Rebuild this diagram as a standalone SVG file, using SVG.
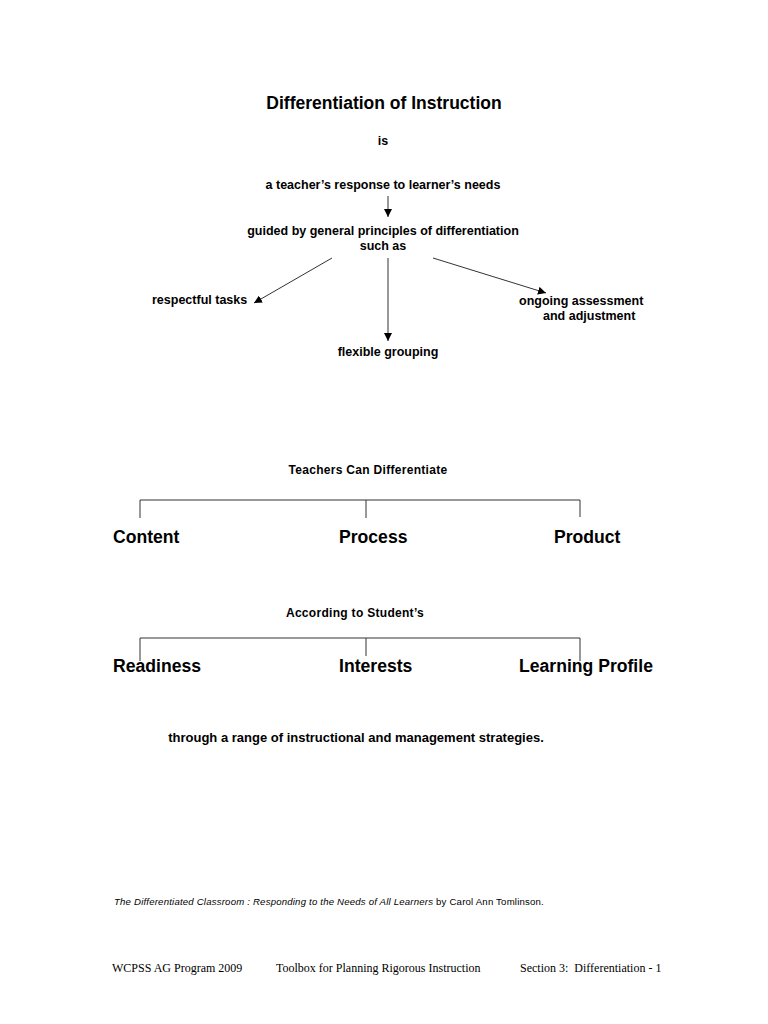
<svg xmlns="http://www.w3.org/2000/svg" width="768" height="1024" viewBox="0 0 768 1024">
<defs>
<marker id="arr" viewBox="0 0 10 10" refX="10" refY="5" markerWidth="8" markerHeight="8" markerUnits="userSpaceOnUse" orient="auto">
<path d="M0,0 L10,5 L0,10 Z" fill="#000"/>
</marker>
</defs>
<style>
text{font-family:"Liberation Sans",Arial,sans-serif;fill:#000}
.b{font-weight:bold}
.t{font-size:17.5px}
.s{font-size:12.5px}
.k{font-size:12px}
.l{font-size:17.6px}
.m{font-size:13px}
.c{font-size:9.6px;letter-spacing:0.2px}
.f{font-family:"Liberation Serif","Times New Roman",serif;font-size:12px}
.ln{stroke:#333;stroke-width:1;fill:none}
</style>
<rect width="768" height="1024" fill="#fff"/>
<g id="title"><text class="b t" x="384" y="109" text-anchor="middle">Differentiation of Instruction</text></g>
<g id="is"><text class="b s" x="383" y="145" text-anchor="middle">is</text></g>
<g id="response"><text class="b s" x="383" y="189" text-anchor="middle">a teacher’s response to learner’s needs</text></g>
<g id="guided"><text class="b s" x="383" y="235" text-anchor="middle">guided by general principles of differentiation</text><text class="b s" x="383" y="250" text-anchor="middle">such as</text></g>
<g id="respectful"><text class="b s" x="152" y="304">respectful tasks</text></g>
<g id="ongoing"><text class="b s" x="519" y="305">ongoing assessment</text><text class="b s" x="543" y="320">and adjustment</text></g>
<g id="flexible"><text class="b s" x="388" y="356" text-anchor="middle">flexible grouping</text></g>
<g id="teachers"><text class="b k" x="368" y="474" text-anchor="middle" letter-spacing="0.3">Teachers Can Differentiate</text></g>
<g id="content"><text class="b l" x="113" y="543">Content</text></g>
<g id="process"><text class="b l" x="339" y="543">Process</text></g>
<g id="product"><text class="b l" x="554" y="543">Product</text></g>
<g id="according"><text class="b k" x="355" y="617" text-anchor="middle" letter-spacing="0.3">According to Student’s</text></g>
<g id="readiness"><text class="b l" x="113" y="672">Readiness</text></g>
<g id="interests"><text class="b l" x="339" y="672">Interests</text></g>
<g id="learning"><text class="b l" x="519" y="672">Learning Profile</text></g>
<g id="through"><text class="b m" x="356" y="742" text-anchor="middle">through a range of instructional and management strategies.</text></g>
<g id="citation"><text class="c" x="114" y="905"><tspan font-style="italic">The Differentiated Classroom :  Responding to the Needs of All Learners</tspan> by Carol Ann Tomlinson.</text></g>
<g id="footer"><text class="f" x="112" y="972">WCPSS AG Program 2009</text><text class="f" x="276" y="972">Toolbox for Planning Rigorous Instruction</text><text class="f" x="520" y="972" xml:space="preserve">Section 3:  Differentiation - 1</text></g>
<g id="connectors">
<line class="ln" x1="388" y1="196" x2="388" y2="217" marker-end="url(#arr)"/>
<line class="ln" x1="388" y1="258" x2="388" y2="341" marker-end="url(#arr)"/>
<line class="ln" x1="332" y1="258" x2="254" y2="303" marker-end="url(#arr)"/>
<line class="ln" x1="433" y1="258" x2="546" y2="293" marker-end="url(#arr)"/>
<path class="ln" d="M140,518 V500 H580 V517 M366,500 V518"/>
<path class="ln" d="M140,661 V638 H580 V661 M366,638 V656"/>
</g>
</svg>
